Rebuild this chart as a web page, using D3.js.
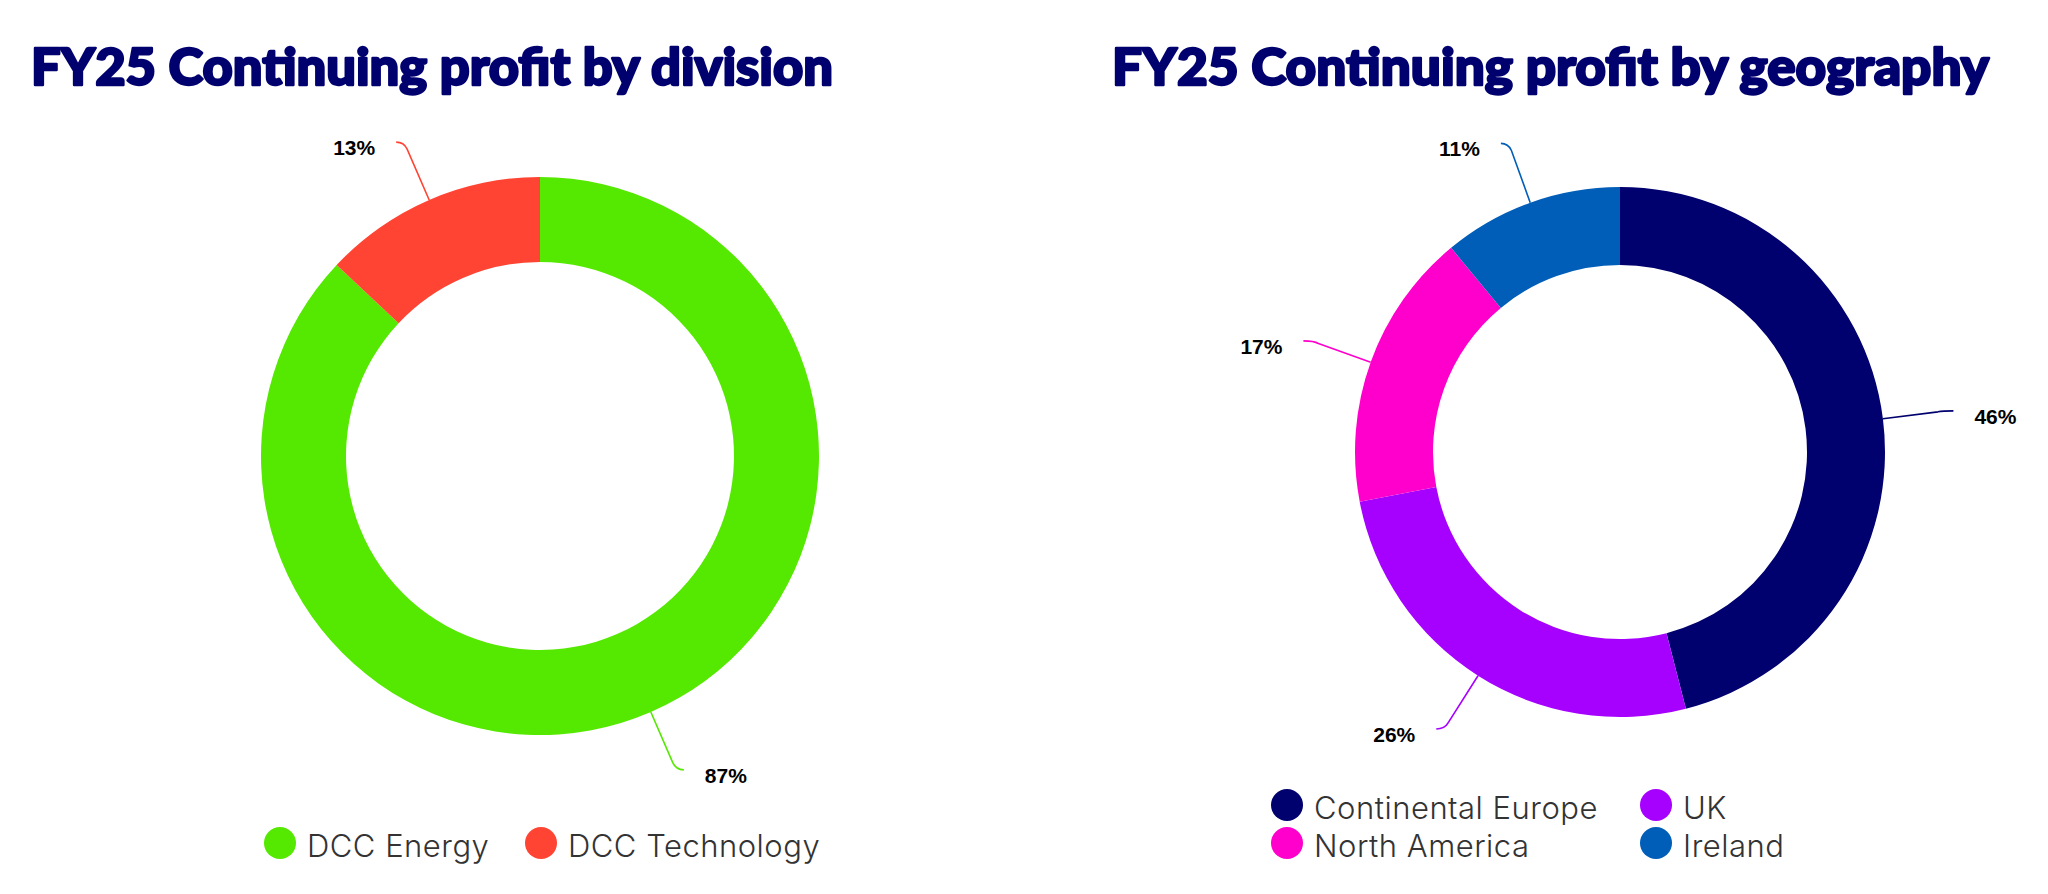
<!DOCTYPE html>
<html>
<head>
<meta charset="utf-8">
<script src="https://cdn.jsdelivr.net/npm/d3@7"></script>
<style>
  body { margin: 0; background: #fff; }
  svg { display: block; }
</style>
</head>
<body>
<div id="chart"></div>
<script>
// data
var divisionTitle = "FY25 Continuing profit by division";
var divisionNames = ["DCC Energy", "DCC Technology"];
var divisionValues = [87, 13];
var divisionColors = ["#55e800", "#ff4433"];

var geoTitle = "FY25 Continuing profit by geography";
var geoNames = ["Continental Europe", "UK", "North America", "Ireland"];
var geoValues = [46, 26, 17, 11];
var geoColors = ["#00006e", "#a600ff", "#ff00cc", "#005eb8"];

var width = 2048, height = 894;

var svg = d3.select("#chart")
  .append("svg")
  .attr("width", width)
  .attr("height", height);

function drawDonut(opts) {
  var g = svg.append("g")
    .attr("transform", "translate(" + opts.cx + "," + opts.cy + ")");

  var data = opts.names.map(function(n, i) {
    return { name: n, value: opts.values[i], color: opts.colors[i] };
  });

  var pie = d3.pie().sort(null).value(function(d) { return d.value; });
  var arc = d3.arc().innerRadius(opts.r).outerRadius(opts.R);
  var arcs = pie(data);

  g.selectAll(".slice")
    .data(arcs)
    .enter()
    .append("path")
    .attr("class", "slice")
    .attr("d", arc)
    .attr("fill", function(d) { return d.data.color; });

  // connector + label
  var labelR = opts.R + 63;
  arcs.forEach(function(d) {
    var a = (d.startAngle + d.endAngle) / 2;
    var sx = Math.sin(a), sy = -Math.cos(a);
    var right = a < Math.PI;
    var dir = right ? 1 : -1;
    var x0 = opts.R * sx, y0 = opts.R * sy;
    var ex = labelR * sx + dir * 8, ey = labelR * sy;
    // bend point just before the end, then curve into horizontal
    var bx = ex - dir * 7 + (x0 - ex) * 0.12, by = ey + (y0 - ey) * 0.12;
    var path = d3.path();
    path.moveTo(x0, y0);
    path.lineTo(bx, by);
    path.quadraticCurveTo(bx + (ex - bx) * 0.3, ey, ex, ey);
    g.append("path")
      .attr("d", path.toString())
      .attr("fill", "none")
      .attr("stroke", d.data.color)
      .attr("stroke-width", 1.6);

    g.append("text")
      .attr("x", ex + dir * 21)
      .attr("y", ey + 13)
      .attr("text-anchor", right ? "start" : "end")
      .attr("font-family", "'Liberation Sans', Arial, sans-serif")
      .attr("font-weight", "bold")
      .attr("font-size", 21)
      .attr("fill", "#000")
      .text(d.data.value + "%");
  });

  svg.append("text")
    .attr("x", opts.titleX)
    .attr("y", 85)
    .attr("font-family", "Lato, 'Noto Sans', sans-serif")
    .attr("font-weight", 900)
    .attr("font-size", 52)
    .attr("fill", "#00006e")
    .attr("stroke", "#00006e")
    .attr("stroke-width", 2.4)
    .attr("stroke-linejoin", "round")
    .attr("textLength", opts.titleW)
    .attr("lengthAdjust", "spacingAndGlyphs")
    .text(opts.title);

  var leg = svg.append("g");
  var items = leg.selectAll(".item")
    .data(data)
    .enter()
    .append("g")
    .attr("class", "item")
    .attr("transform", function(d, i) {
      var p = opts.legendPos(i);
      return "translate(" + p[0] + "," + p[1] + ")";
    });
  items.append("circle")
    .attr("r", 16)
    .attr("fill", function(d) { return d.color; });
  items.append("text")
    .attr("x", 27)
    .attr("y", 14)
    .attr("font-family", "Inter, Lato, sans-serif")
    .attr("font-weight", 300)
    .attr("font-size", 31)
    .attr("letter-spacing", 0.5)
    .attr("fill", "#333")
    .text(function(d) { return d.name; });
}

drawDonut({
  cx: 540, cy: 456, R: 279, r: 194,
  names: divisionNames, values: divisionValues, colors: divisionColors,
  title: divisionTitle, titleX: 31, titleW: 802,
  legendPos: function(i) { return [280 + i * 261, 843]; }
});

drawDonut({
  cx: 1620, cy: 452, R: 265, r: 187,
  names: geoNames, values: geoValues, colors: geoColors,
  title: geoTitle, titleX: 1112, titleW: 877,
  legendPos: function(i) { return [1287 + (i % 2) * 369, 805 + Math.floor(i / 2) * 38]; }
});
</script>
</body>
</html>
